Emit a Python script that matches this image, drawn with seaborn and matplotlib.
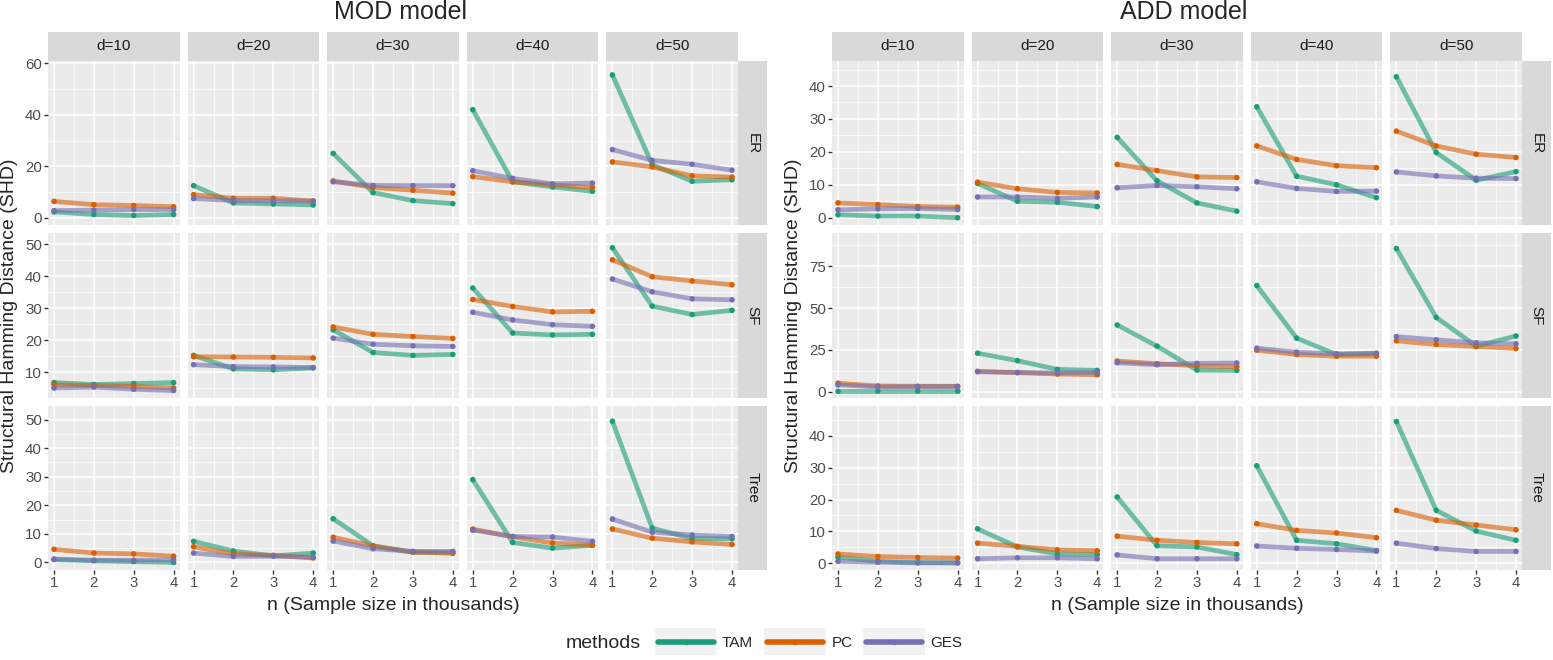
import numpy as np
import pandas as pd
import matplotlib
matplotlib.use("Agg")
import matplotlib.pyplot as plt
from matplotlib.lines import Line2D
from matplotlib.patches import Rectangle
from matplotlib.legend_handler import HandlerLine2D
from matplotlib.ticker import FixedLocator, AutoMinorLocator
import seaborn as sns

# ---- data (SHD), rows = d=10..50, cols = n=1..4 ----
n_values = [1, 2, 3, 4]
d_values = [10, 20, 30, 40, 50]
graphs = ["ER", "SF", "Tree"]
methods = ["TAM", "PC", "GES"]
colors = ["#1B9E77", "#D95F02", "#7570B3"]

mod_er_tam = [[2.3, 1.3, 0.9, 1.3], [12.5, 5.8, 5.4, 5.0], [25.0, 9.8, 6.7, 5.5], [42.0, 14.0, 12.0, 10.3], [55.5, 20.6, 14.2, 14.8]]
mod_er_pc = [[6.4, 5.1, 4.8, 4.3], [9.0, 7.6, 7.6, 6.5], [14.3, 11.8, 10.7, 9.6], [16.0, 14.0, 12.8, 11.8], [21.7, 19.8, 16.3, 15.8]]
mod_er_ges = [[2.8, 3.0, 3.2, 3.2], [7.5, 6.7, 6.6, 6.5], [14.0, 12.6, 12.5, 12.5], [18.3, 15.3, 13.2, 13.5], [26.5, 22.3, 20.8, 18.5]]

mod_sf_tam = [[6.8, 6.2, 6.5, 6.8], [15.3, 11.1, 10.8, 11.4], [23.3, 16.2, 15.3, 15.6], [36.4, 22.3, 21.7, 21.9], [49.0, 30.7, 28.1, 29.4]]
mod_sf_pc = [[6.1, 5.9, 5.6, 5.1], [14.9, 14.8, 14.7, 14.5], [24.2, 21.9, 21.2, 20.6], [32.8, 30.6, 28.9, 29.1], [45.2, 39.9, 38.6, 37.4]]
mod_sf_ges = [[5.1, 5.4, 4.7, 4.3], [12.4, 11.8, 11.7, 11.5], [20.7, 18.8, 18.3, 18.1], [28.8, 26.4, 24.9, 24.4], [39.2, 35.2, 33.0, 32.7]]

mod_tree_tam = [[1.0, 0.6, 0.3, 0.0], [7.4, 4.0, 2.3, 3.3], [15.3, 5.8, 3.6, 3.5], [29.0, 7.0, 5.0, 6.0], [49.4, 12.0, 8.4, 8.3]]
mod_tree_pc = [[4.6, 3.3, 3.0, 2.2], [5.5, 3.0, 2.5, 1.6], [8.8, 5.8, 3.6, 3.2], [11.7, 9.0, 6.8, 6.1], [11.7, 8.5, 7.2, 6.3]]
mod_tree_ges = [[1.2, 0.8, 0.8, 0.9], [3.3, 2.1, 2.2, 1.8], [7.5, 4.8, 3.9, 3.9], [11.3, 9.1, 8.9, 7.4], [15.2, 10.6, 9.6, 9.1]]

add_er_tam = [[0.9, 0.5, 0.5, 0.0], [10.4, 5.0, 4.7, 3.4], [24.4, 11.2, 4.5, 2.0], [33.7, 12.6, 10.0, 6.1], [42.8, 19.8, 11.4, 14.0]]
add_er_pc = [[4.5, 4.0, 3.4, 3.2], [10.8, 8.8, 7.7, 7.5], [16.2, 14.3, 12.4, 12.2], [21.8, 17.7, 15.8, 15.2], [26.3, 21.8, 19.3, 18.3]]
add_er_ges = [[2.4, 2.7, 2.8, 2.5], [6.3, 6.3, 5.9, 6.3], [9.1, 9.8, 9.4, 8.8], [10.9, 8.9, 8.0, 8.1], [13.9, 12.7, 12.0, 11.9]]

add_sf_tam = [[0.2, 0.2, 0.2, 0.2], [23.0, 18.5, 13.3, 12.7], [39.9, 27.2, 12.9, 12.7], [63.5, 32.0, 22.2, 22.8], [85.7, 44.4, 27.2, 33.3]]
add_sf_pc = [[5.0, 3.4, 3.2, 3.2], [12.1, 11.3, 10.5, 10.1], [18.3, 16.7, 15.5, 14.9], [24.8, 22.2, 21.2, 21.2], [30.4, 28.2, 27.0, 25.8]]
add_sf_ges = [[4.0, 2.8, 3.0, 3.0], [11.9, 11.5, 11.1, 11.5], [17.3, 16.1, 16.9, 17.1], [26.0, 23.6, 22.6, 23.0], [32.9, 31.0, 29.2, 28.6]]

add_tree_tam = [[1.9, 0.6, 0.2, 0.1], [10.8, 5.1, 2.9, 2.7], [20.8, 5.5, 5.1, 2.7], [30.6, 7.2, 6.1, 4.0], [44.5, 16.6, 10.1, 7.2]]
add_tree_pc = [[2.9, 2.1, 1.8, 1.6], [6.3, 5.3, 4.2, 3.9], [8.5, 7.2, 6.5, 6.1], [12.4, 10.3, 9.5, 8.0], [16.6, 13.5, 12.0, 10.5]]
add_tree_ges = [[0.6, 0.3, 0.1, 0.1], [1.4, 1.7, 1.7, 1.4], [2.6, 1.4, 1.4, 1.4], [5.4, 4.7, 4.3, 3.8], [6.3, 4.6, 3.7, 3.7]]

series = {
    ("MOD", "ER"): [mod_er_tam, mod_er_pc, mod_er_ges],
    ("MOD", "SF"): [mod_sf_tam, mod_sf_pc, mod_sf_ges],
    ("MOD", "Tree"): [mod_tree_tam, mod_tree_pc, mod_tree_ges],
    ("ADD", "ER"): [add_er_tam, add_er_pc, add_er_ges],
    ("ADD", "SF"): [add_sf_tam, add_sf_pc, add_sf_ges],
    ("ADD", "Tree"): [add_tree_tam, add_tree_pc, add_tree_ges],
}

# free y scale per row (ggplot facet_grid scales="free_y")
row_limits = {
    ("MOD", "ER"): (-2.9, 60.9), ("MOD", "SF"): (2.1, 53.5), ("MOD", "Tree"): (-2.6, 54.9),
    ("ADD", "ER"): (-2.3, 47.6), ("ADD", "SF"): (-3.6, 94.8), ("ADD", "Tree"): (-2.1, 49.5),
}
row_ticks = {
    ("MOD", "ER"): [0, 20, 40, 60], ("MOD", "SF"): [10, 20, 30, 40, 50], ("MOD", "Tree"): [0, 10, 20, 30, 40, 50],
    ("ADD", "ER"): [0, 10, 20, 30, 40], ("ADD", "SF"): [0, 25, 50, 75], ("ADD", "Tree"): [0, 10, 20, 30, 40],
}

rows = []
for (model, graph), per_method in series.items():
    for method, table in zip(methods, per_method):
        for d, vals in zip(d_values, table):
            for n, v in zip(n_values, vals):
                rows.append({"model": model, "graph": graph, "method": method, "d": d, "n": n, "shd": v})
df = pd.DataFrame(rows)

# ---- styling ----
sns.set_theme(style="darkgrid")
plt.rcParams["font.family"] = ["Liberation Sans", "DejaVu Sans"]
plt.rcParams["axes.facecolor"] = "#EBEBEB"
plt.rcParams["grid.color"] = "white"

W, H = 1553, 660
fig = plt.figure(figsize=(W / 100, H / 100), dpi=100)


def box(x, y, w, h):
    return [x / W, 1 - (y + h) / H, w / W, h / H]


pw, pg = 131.6, 8.0
ph, vg = 164.3, 8.0
top = 61
strip = 29
palette = dict(zip(methods, colors))

for model, x0 in [("MOD", 48), ("ADD", 832)]:
    for j, d in enumerate(d_values):
        px = x0 + j * (pw + pg)
        sax = fig.add_axes(box(px, top - strip, pw, strip))
        sax.set_facecolor("#D9D9D9")
        sax.set_xticks([]); sax.set_yticks([])
        sax.grid(False)
        for s in sax.spines.values():
            s.set_visible(False)
        sax.text(0.5, 0.5, f"d={d}", ha="center", va="center", fontsize=11, color="#1A1A1A",
                 transform=sax.transAxes)
    for i, graph in enumerate(graphs):
        py = top + i * (ph + vg)
        rax = fig.add_axes(box(x0 + 5 * pw + 4 * pg, py, strip, ph))
        rax.set_facecolor("#D9D9D9")
        rax.set_xticks([]); rax.set_yticks([])
        rax.grid(False)
        for s in rax.spines.values():
            s.set_visible(False)
        rax.text(0.5, 0.5, graph, ha="center", va="center", rotation=-90, fontsize=11,
                 color="#1A1A1A", transform=rax.transAxes)
        for j, d in enumerate(d_values):
            px = x0 + j * (pw + pg)
            ax = fig.add_axes(box(px, py, pw, ph))
            sub = df[(df.model == model) & (df.graph == graph) & (df.d == d)]
            sns.lineplot(data=sub, x="n", y="shd", hue="method", hue_order=methods, palette=palette,
                         linewidth=3.4, alpha=0.6, legend=False, ax=ax)
            sns.scatterplot(data=sub, x="n", y="shd", hue="method", hue_order=methods, palette=palette,
                            s=16, linewidth=0, legend=False, ax=ax, zorder=3)
            ax.set_xlim(0.85, 4.15)
            ax.set_ylim(*row_limits[(model, graph)])
            ax.set_xticks(n_values)
            ax.set_yticks(row_ticks[(model, graph)])
            ax.xaxis.set_minor_locator(FixedLocator([1.5, 2.5, 3.5]))
            ax.yaxis.set_minor_locator(AutoMinorLocator(2))
            ax.grid(which="major", color="white", linewidth=1.1)
            ax.grid(which="minor", color="white", linewidth=0.5)
            for s in ax.spines.values():
                s.set_visible(False)
            ax.set_xlabel("")
            ax.set_ylabel("")
            ax.tick_params(axis="both", which="major", length=3, width=1, color="#333333",
                           labelsize=10.8, labelcolor="#4D4D4D", pad=1.5)
            ax.tick_params(which="minor", length=0)
            ax.tick_params(axis="x", bottom=(i == 2), labelbottom=(i == 2))
            ax.tick_params(axis="y", left=(j == 0), labelleft=(j == 0))

    cx = (x0 + x0 + 5 * pw + 4 * pg) / 2
    fig.text((cx + 7) / W, 1 - 12 / H, f"{model} model", ha="center", va="center", fontsize=18)
    fig.text(cx / W, 1 - 605 / H, "n (Sample size in thousands)", ha="center", va="center", fontsize=14)
    fig.text((x0 - 38) / W, 1 - 316 / H, "Structural Hamming Distance (SHD)", ha="center",
             va="center", rotation=90, fontsize=14)


# legend with grey key backgrounds like ggplot
class KeyHandler(HandlerLine2D):
    def create_artists(self, legend, orig_handle, xdescent, ydescent, width, height, fontsize, trans):
        bg = Rectangle((-xdescent - 2, -ydescent - 6), width + 4, height + 12, facecolor="#F2F2F2",
                       edgecolor="none", transform=trans)
        arts = super().create_artists(legend, orig_handle, xdescent, ydescent, width, height, fontsize, trans)
        return [bg] + list(arts)


handles = [Line2D([0], [0], color=c, lw=4, marker="o", ms=3) for c in colors]
fig.text(603 / W, 1 - 643 / H, "methods", ha="center", va="center", fontsize=14)
leg = fig.legend(handles, methods, loc="center left", bbox_to_anchor=(644 / W, 1 - 643 / H), ncol=3,
                 frameon=False, fontsize=11, handlelength=3.66, handletextpad=0.55, columnspacing=0.9,
                 numpoints=1, handler_map={Line2D: KeyHandler(numpoints=1)})

fig.savefig("out.png", dpi=100, facecolor="white")
